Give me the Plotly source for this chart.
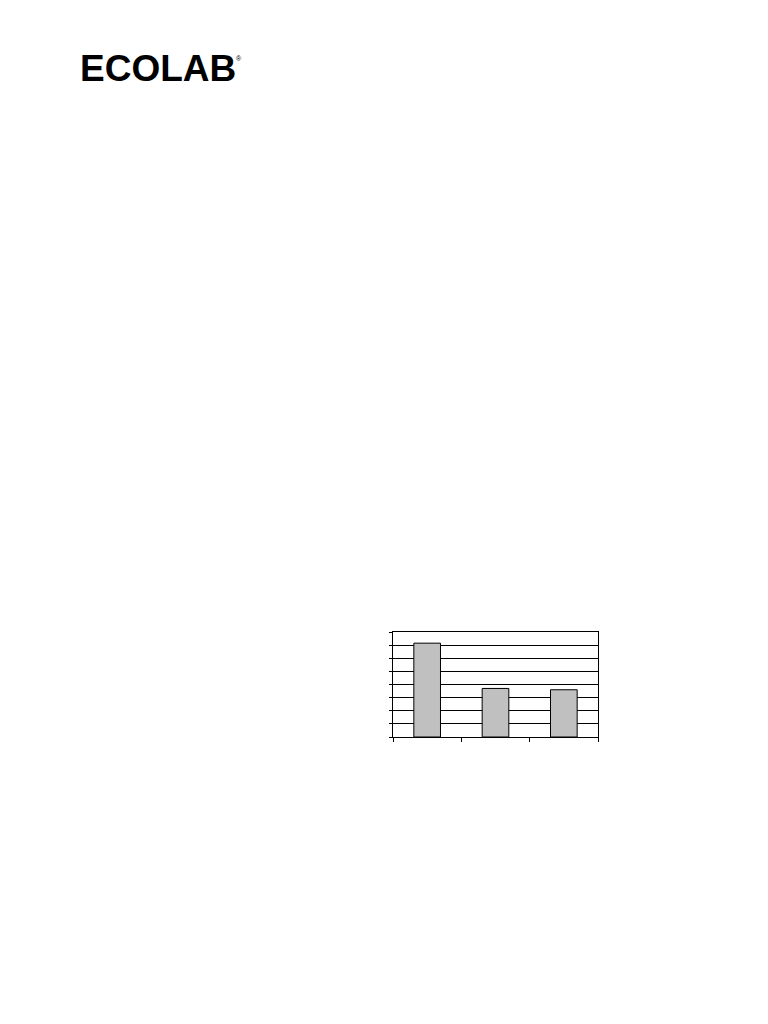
import plotly.graph_objects as go

# three bars, no labels visible on the page
categories = ["A", "B", "C"]
values = [7.15, 3.7, 3.6]

L, R, T, B = 385, 178, 624, 295
W, H = 768 - L - R, 1024 - T - B

fig = go.Figure()
fig.add_trace(go.Bar(x=categories, y=values,
                     marker=dict(color="#c0c0c0", line=dict(color="black", width=1)),
                     width=0.39))

fig.update_layout(width=768, height=1024,
                  margin=dict(l=L, r=R, t=T, b=B),
                  paper_bgcolor="white", plot_bgcolor="white",
                  showlegend=False, bargap=0.61)

fig.update_xaxes(showline=True, linecolor="black", linewidth=1, mirror=True,
                 showticklabels=False, ticks="outside", ticklen=4, tickcolor="black",
                 tickson="boundaries", showgrid=False)
fig.update_yaxes(range=[0, 8], dtick=1, showline=True, linecolor="black", linewidth=1,
                 mirror=True, showticklabels=False, ticks="outside", ticklen=3,
                 tickcolor="black", showgrid=True, gridcolor="black", gridwidth=1,
                 zeroline=False)

# logo
fig.add_annotation(text="<b>ECOLAB</b>", xref="paper", yref="paper",
                   x=(70 - L) / W, y=(1024 - B - 60) / H,
                   xanchor="left", yanchor="middle", showarrow=False,
                   font=dict(family="Liberation Sans", size=37, color="black"))
fig.add_annotation(text="®", xref="paper", yref="paper",
                   x=(226 - L) / W, y=(1024 - B - 50) / H,
                   xanchor="left", yanchor="middle", showarrow=False,
                   font=dict(family="Liberation Sans", size=7, color="black"))

fig.write_html("out.html")
